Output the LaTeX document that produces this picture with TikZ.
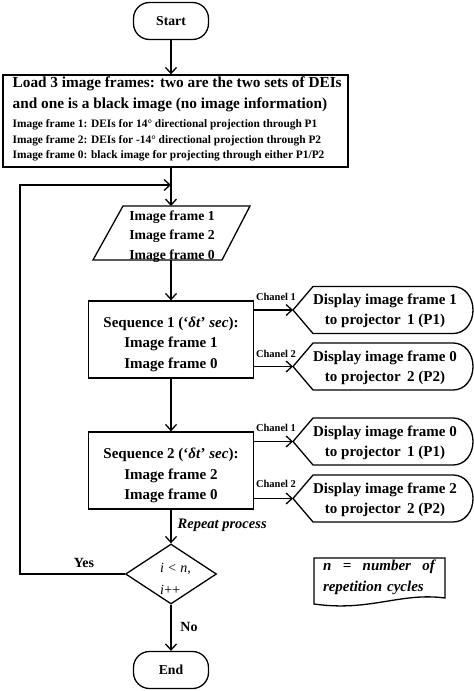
\documentclass[tikz,border=0pt]{standalone}
\usepackage{fontspec}
\setmainfont{Liberation Serif}
\usetikzlibrary{arrows.meta,shapes.geometric}
\newcommand\fs[2]{\fontsize{#1}{#2}\selectfont}
\begin{document}
\begin{tikzpicture}[x=1pt,y=-1pt,line width=1.3pt,
  arr/.style={-{Straight Barb[length=6pt,width=11pt,line width=1.3pt]}},
  termbox/.style={draw,rounded corners=16pt,minimum width=75pt,minimum height=37pt,inner sep=0pt,font=\bfseries\fs{13.7}{16}},
  procbox/.style={draw,minimum width=165pt,minimum height=77pt,inner sep=0pt},
  proctext/.style={align=center,inner sep=0pt,font=\bfseries\fs{15}{20.5}},
  disptext/.style={align=center,inner sep=0pt,minimum width=180pt,minimum height=47pt,font=\bfseries\fs{15}{20}},
  chan/.style={inner sep=0pt,font=\bfseries\fs{10.5}{12}},
  bigline/.style={anchor=mid west,inner sep=0pt,font=\bfseries\fs{15.3}{18}},
  smallline/.style={anchor=mid west,inner sep=0pt,font=\bfseries\fs{11.4}{13}},
  lbl/.style={inner sep=0pt,font=\bfseries\fs{14}{16}}]
\useasboundingbox (0,0) rectangle (474,691);

% start
\node[termbox] (start) at (171,21) {Start};

% load box
\node[draw,minimum width=345pt,minimum height=92pt,inner sep=0pt] (load) at (175.5,121) {};
\node[bigline] (l1) at (12,85) {Load 3 image frames: two are the two sets of DEIs};
\node[bigline] (l2) at (12,106) {and one is a black image (no image information)};
\node[smallline] (l3) at (12,125) {Image frame 1: DEIs for 14° directional projection through P1};
\node[smallline] (l4) at (12,141) {Image frame 2: DEIs for -14° directional projection through P2};
\node[smallline] (l5) at (12,156) {Image frame 0: black image for projecting through either P1/P2};

% input parallelogram
\draw (123,206) -- (250,206) -- (222,260) -- (93,260) -- cycle;
\node[inner sep=0pt,minimum width=100pt,minimum height=54pt,align=center,font=\bfseries\fs{13.7}{19.5}] (io) at (172,236.5) {Image frame 1\\Image frame 2\\Image frame 0};

% sequence 1
\node[procbox] (seq1) at (171,339.5) {};
\node[proctext] (s1t) at (171,344) {Sequence 1 (‘\textit{δt}’ \textit{sec}):\\Image frame 1\\Image frame 0};

% sequence 2
\node[procbox] (seq2) at (171,470.5) {};
\node[proctext] (s2t) at (171,475.5) {Sequence 2 (‘\textit{δt}’ \textit{sec}):\\Image frame 2\\Image frame 0};

% display shapes
\draw (293,310) -- (313,286.5) -- (453,286.5) .. controls (465,286.5) and (473,297) .. (473,310) .. controls (473,323) and (465,333.5) .. (453,333.5) -- (313,333.5) -- cycle;
\draw (293,366.5) -- (313,343) -- (453,343) .. controls (465,343) and (473,353.5) .. (473,366.5) .. controls (473,379.5) and (465,390) .. (453,390) -- (313,390) -- cycle;
\draw (293,441.5) -- (313,418) -- (453,418) .. controls (465,418) and (473,428.5) .. (473,441.5) .. controls (473,454.5) and (465,465) .. (453,465) -- (313,465) -- cycle;
\draw (293,498.5) -- (313,475) -- (453,475) .. controls (465,475) and (473,485.5) .. (473,498.5) .. controls (473,511.5) and (465,522) .. (453,522) -- (313,522) -- cycle;
\node[disptext] (d1) at (385,311) {Display image frame 1\\to projector \,1 (P1)};
\node[disptext] (d2) at (385,367.5) {Display image frame 0\\to projector \,2 (P2)};
\node[disptext] (d3) at (385,442.5) {Display image frame 0\\to projector \,1 (P1)};
\node[disptext] (d4) at (385,499.5) {Display image frame 2\\to projector \,2 (P2)};
\coordinate (p1) at (293,310);
\coordinate (p2) at (293,366.5);
\coordinate (p3) at (293,441.5);
\coordinate (p4) at (293,498.5);

\node[chan] (c1) at (276,297) {Chanel 1};
\node[chan] (c2) at (276,354) {Chanel 2};
\node[chan] (c3) at (276,428) {Chanel 1};
\node[chan] (c4) at (276,484) {Chanel 2};

% decision
\node[draw,shape=diamond,minimum width=91pt,minimum height=60pt,inner sep=0pt] (dia) at (171,574) {};
\node[align=left,inner sep=0pt,font=\itshape\fs{14}{22}] (cond) at (175.5,578.5) {\textit{i} < \textit{n},\\\textit{i}\kern-0.5pt+\kern-1.5pt+};

% end
\node[termbox] (end) at (171,670) {End};

% note
\draw (314,558) -- (445,558) -- (445,598) .. controls (400,592) and (370,612) .. (314,604) -- cycle;
\node[align=left,text width=112pt,inner sep=0pt,font=\bfseries\itshape\fs{15}{21}] (note) at (379,577.5) {n\hfill=\hfill number\hfill of\\repetition cycles};

% labels
\node[lbl] (yes) at (84,563) {Yes};
\node[lbl] (no) at (189,627) {No};
\node[anchor=mid west,inner sep=0pt,font=\bfseries\itshape\fs{14.5}{16}] (rep) at (177,526) {Repeat process};

% connectors
\coordinate (iotop) at (171,206);
\coordinate (iobot) at (171,260);
\draw[arr] (start) -- (start |- load.north);
\draw[arr] (start |- load.south) -- (iotop);
\draw[arr] (iobot) -- (seq1);
\draw[arr] (seq1) -- (seq2);
\draw[arr] (seq2) -- (dia);
\draw[arr] (dia) -- (end);
\draw[arr] (seq1.east |- p1) -- (p1);
\draw[arr] (seq1.east |- p2) -- (p2);
\draw[arr] (seq2.east |- p3) -- (p3);
\draw[arr] (seq2.east |- p4) -- (p4);
\coordinate (lc) at (20,185);
\draw[arr] (dia.west) -| (lc) -- (start.south |- lc);
\end{tikzpicture}
\end{document}
